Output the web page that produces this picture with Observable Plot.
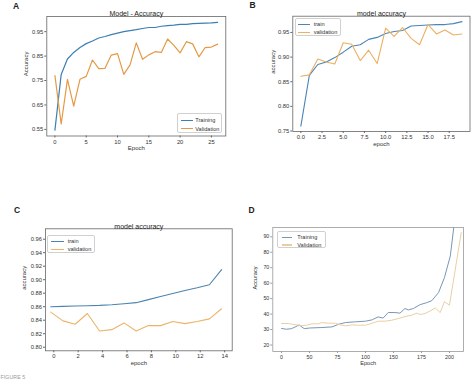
<!DOCTYPE html>
<html><head><meta charset="utf-8">
<script src="https://cdn.jsdelivr.net/npm/d3@7"></script>
<script src="https://cdn.jsdelivr.net/npm/@observablehq/plot@0.6"></script>
<style>
body{margin:0;background:#fff;}
#fig{position:relative;width:474px;height:382px;overflow:hidden;font-family:"Liberation Sans",Arial,sans-serif;background:#fff}
.panel{position:absolute}
.letter{position:absolute;font-weight:bold;font-size:8.5px;color:#222;line-height:1}
.legend{position:absolute;box-sizing:border-box;border:0.7px solid #d0d0d0;border-radius:2px;background:rgba(255,255,255,0.85);font-size:5.6px;color:#333}
.legrow{position:absolute;left:0;right:0;height:8px;line-height:8px;white-space:nowrap}
.legrow .sw{position:absolute;top:3.5px;height:1.3px}
.legrow .lt{position:absolute;top:0}
.figlab{position:absolute;font-size:5.2px;color:#999;letter-spacing:0.1px;white-space:nowrap}
</style></head>
<body>
<div id="fig"></div>
<script>
// ---------- Panel A ----------
const epochsA = [0,1,2,3,4,5,6,7,8,9,10,11,12,13,14,15,16,17,18,19,20,21,22,23,24,25,26];
const trainA = [0.547,0.775,0.838,0.865,0.885,0.901,0.912,0.924,0.930,0.938,0.944,0.950,0.954,0.958,0.963,0.967,0.967,0.972,0.975,0.977,0.980,0.980,0.983,0.984,0.985,0.986,0.988];
const valA = [0.770,0.572,0.755,0.645,0.755,0.767,0.834,0.799,0.800,0.854,0.860,0.775,0.814,0.904,0.837,0.855,0.868,0.865,0.920,0.894,0.863,0.909,0.900,0.847,0.885,0.887,0.899];
const xTicksA = [0,5,10,15,20,25];
const yTicksA = [0.55,0.65,0.75,0.85,0.95];

// ---------- Panel B ----------
const epochsB = [0,1,2,3,4,5,6,7,8,9,10,11,12,13,14,15,16,17,18,19];
const trainB = [0.760,0.863,0.885,0.890,0.899,0.910,0.922,0.925,0.936,0.940,0.948,0.952,0.954,0.963,0.964,0.965,0.966,0.966,0.968,0.972];
const valB = [0.861,0.864,0.896,0.890,0.886,0.929,0.926,0.893,0.914,0.887,0.959,0.942,0.960,0.938,0.925,0.966,0.947,0.955,0.945,0.947];
const xTicksB = [0,2.5,5,7.5,10,12.5,15,17.5];
const yTicksB = [0.75,0.80,0.85,0.90,0.95];

// ---------- Panel C ----------
const epochsC = [-0.25,0.75,1.75,2.75,3.75,4.75,5.75,6.75,7.75,8.75,9.75,10.75,11.75,12.75,13.75];
const trainC = [0.860,0.8605,0.861,0.8615,0.862,0.863,0.8645,0.866,0.8705,0.875,0.8795,0.884,0.888,0.8925,0.915];
const valC = [0.852,0.839,0.834,0.850,0.824,0.826,0.836,0.824,0.832,0.832,0.838,0.835,0.838,0.842,0.857];
const xTicksC = [0,2,4,6,8,10,12,14];
const yTicksC = [0.80,0.82,0.84,0.86,0.88,0.90,0.92,0.94,0.96];

// ---------- Panel D ----------
const epochsTrainD = [0,6,12,21,27,34,48,60,68,76,88,100,108,115,121,127,135,141,147,151,157,165,173,179,187,194,201,206];
const trainD = [30.7,30.2,30.6,32.9,30.6,31.0,31.3,31.7,33.4,34.5,35.0,35.4,36.3,38.2,37.4,41.0,41.0,40.6,43.6,42.7,43.6,46.1,47.4,48.7,53.9,63.6,77.6,100];
const epochsValD = [0,8,14,24,30,36,44,48,56,64,70,76,84,92,100,108,115,123,131,139,147,155,161,165,171,178,183,189,194,200,214];
const valD = [33.9,33.9,33.3,32.6,32.8,33.7,33.7,34.5,34.1,34.1,33.0,32.4,33.0,32.8,32.8,34.1,35.4,35.4,36.0,37.1,38.4,39.3,40.6,39.7,40.4,42.3,44.0,41.0,48.0,45.8,92.7];
const xTickPosD = [0,33.3,66.7,100,133.3,166.7,200];
const xTickLabelsD = ["0","50","75","100","150","175","200"];
const yTicksD = [20,30,40,50,60,70,80,90];

const FONT = '"Liberation Sans", Arial, sans-serif';
const fig = document.getElementById("fig");

function place(el, left, top) {
  const w = document.createElement("div");
  w.className = "panel";
  w.style.left = left + "px";
  w.style.top = top + "px";
  w.appendChild(el);
  fig.appendChild(w);
}
function legend(left, top, w, h, rows) {
  const L = document.createElement("div");
  L.className = "legend";
  Object.assign(L.style, {left: left+"px", top: top+"px", width: w+"px", height: h+"px"});
  rows.forEach(r => {
    const row = document.createElement("div");
    row.className = "legrow";
    row.style.top = r.top + "px";
    const sw = document.createElement("span");
    sw.className = "sw";
    Object.assign(sw.style, {left: r.sx+"px", width: r.sw+"px", background: r.color});
    const t = document.createElement("span");
    t.className = "lt";
    t.style.left = r.tx + "px";
    t.textContent = r.label;
    row.appendChild(sw); row.appendChild(t);
    L.appendChild(row);
  });
  fig.appendChild(L);
}
function letter(txt, left, top) {
  const d = document.createElement("div");
  d.className = "letter";
  d.textContent = txt;
  d.style.left = left + "px"; d.style.top = top + "px";
  fig.appendChild(d);
}

function panel(o) {
  const rowsT = o.ex.map((e,i)=>({epoch:e, v:o.tr[i]}));
  const rowsV = o.ev.map((e,i)=>({epoch:e, v:o.va[i]}));
  return Plot.plot({
    width: o.width, height: o.height,
    marginLeft: o.ml, marginRight: o.mr, marginTop: o.mt, marginBottom: o.mb,
    style: {fontFamily: FONT, fontSize: o.fs + "px", color: "#333", background: "transparent", overflow: "visible"},
    x: {domain: o.xd},
    y: {domain: o.yd},
    marks: [
      Plot.axisX({ticks: o.xt, tickFormat: o.xf, tickSize: 2, tickPadding: 1.5, label: null, stroke: o.fc, fill: "#333"}),
      Plot.axisY({ticks: o.yt, tickFormat: o.yf, tickSize: 2, tickPadding: 1.5, label: null, stroke: o.fc, fill: "#333"}),
      Plot.line(rowsT, {x: "epoch", y: "v", stroke: o.c1, strokeWidth: o.sw, clip: true}),
      Plot.line(rowsV, {x: "epoch", y: "v", stroke: o.c2, strokeWidth: o.sw, clip: true}),
      Plot.frame({stroke: o.fc, strokeWidth: 0.8}),
      o.title ? Plot.text([o.title], {text: d => d, frameAnchor: "top", dy: -5, fontSize: 7, fill: "#222"}) : null,
      Plot.text([o.xl], {text: d => d, frameAnchor: "bottom", dy: o.xldy, fontSize: o.lfs, fill: "#333"}),
      Plot.text([o.yl], {text: d => d, frameAnchor: "left", dx: o.yldx, rotate: -90, fontSize: o.lfs, fill: "#333"})
    ]
  });
}

// A
place(panel({width: 237, height: 160, ml: 46.3, mr: 11.7, mt: 16, mb: 24.5, fs: 5.8, lfs: 6,
  xd: [-1.3, 27.3], yd: [0.523, 1.012], xt: xTicksA, yt: yTicksA, xf: d3.format("d"), yf: d3.format(".2f"),
  ex: epochsA, tr: trainA, ev: epochsA, va: valA, c1: "#3c7fb1", c2: "#e49a45", sw: 1.2, fc: "#666",
  title: "Model - Accuracy", xl: "Epoch", xldy: 14, yl: "Accuracy", yldx: -21}), 0, 0);
// B
place(panel({width: 237, height: 160, ml: 55.3, mr: 4.5, mt: 15.7, mb: 29, fs: 5.8, lfs: 6,
  xd: [-0.95, 19.95], yd: [0.749, 0.983], xt: xTicksB, yt: yTicksB, xf: d3.format(".1f"), yf: d3.format(".2f"),
  ex: epochsB, tr: trainB, ev: epochsB, va: valB, c1: "#4a85b5", c2: "#ebb060", sw: 1.1, fc: "#666",
  title: "model accuracy", xl: "epoch", xldy: 14.5, yl: "accuracy", yldx: -20}), 237, 0);
// C
place(panel({width: 237, height: 187, ml: 45, mr: 5.3, mt: 33.3, mb: 31.7, fs: 5.8, lfs: 6,
  xd: [-0.68, 14.62], yd: [0.7947, 0.9754], xt: xTicksC, yt: yTicksC, xf: d3.format("d"), yf: d3.format(".2f"),
  ex: epochsC, tr: trainC, ev: epochsC, va: valC, c1: "#4d84ad", c2: "#eab56a", sw: 1.1, fc: "#666",
  title: "model accuracy", xl: "epoch", xldy: 14, yl: "accuracy", yldx: -21.7}), 0, 195);
// D
place(panel({width: 237, height: 187, ml: 35.3, mr: 11, mt: 32, mb: 31, fs: 5.3, lfs: 5.6,
  xd: [-10.4, 216.7], yd: [15.8, 96], xt: xTickPosD, yt: yTicksD,
  xf: d => xTickLabelsD[xTickPosD.indexOf(d)], yf: d3.format("d"),
  ex: epochsTrainD, tr: trainD, ev: epochsValD, va: valD, c1: "#7897b5", c2: "#e8cfa3", sw: 1, fc: "#999",
  title: null, xl: "Epoch", xldy: 13.2, yl: "Accuracy", yldx: -17.3}), 237, 195);

// legends
legend(176.7, 113, 45.5, 19.7, [
  {top: 2, sx: 3.3, sw: 11.7, tx: 17.6, label: "Training", color: "#3c7fb1"},
  {top: 10.7, sx: 3.3, sw: 11.7, tx: 17.6, label: "Validation", color: "#e49a45"}]);
legend(295, 17.7, 46, 18, [
  {top: 1.6, sx: 2.3, sw: 11.7, tx: 17.7, label: "train", color: "#4a85b5"},
  {top: 9.6, sx: 2.3, sw: 11.7, tx: 17.7, label: "validation", color: "#ebb060"}]);
legend(46.7, 235, 48.3, 18.3, [
  {top: 1, sx: 3.3, sw: 12.7, tx: 20, label: "train", color: "#4d84ad"},
  {top: 9.3, sx: 3.3, sw: 12.7, tx: 20, label: "validation", color: "#eab56a"}]);
legend(277.3, 231.3, 49, 16.7, [
  {top: 1, sx: 3.4, sw: 10.6, tx: 19, label: "Training", color: "#7897b5"},
  {top: 8.7, sx: 3.4, sw: 10.6, tx: 19, label: "Validation", color: "#e8cfa3"}]);

letter("A", 13, 1.5);
letter("B", 249.5, 1);
letter("C", 14, 205.5);
letter("D", 248.5, 205.5);

const fl = document.createElement("div");
fl.className = "figlab";
fl.textContent = "FIGURE 5";
fl.style.left = "0.5px"; fl.style.top = "373.5px";
fig.appendChild(fl);
</script>
</body></html>
